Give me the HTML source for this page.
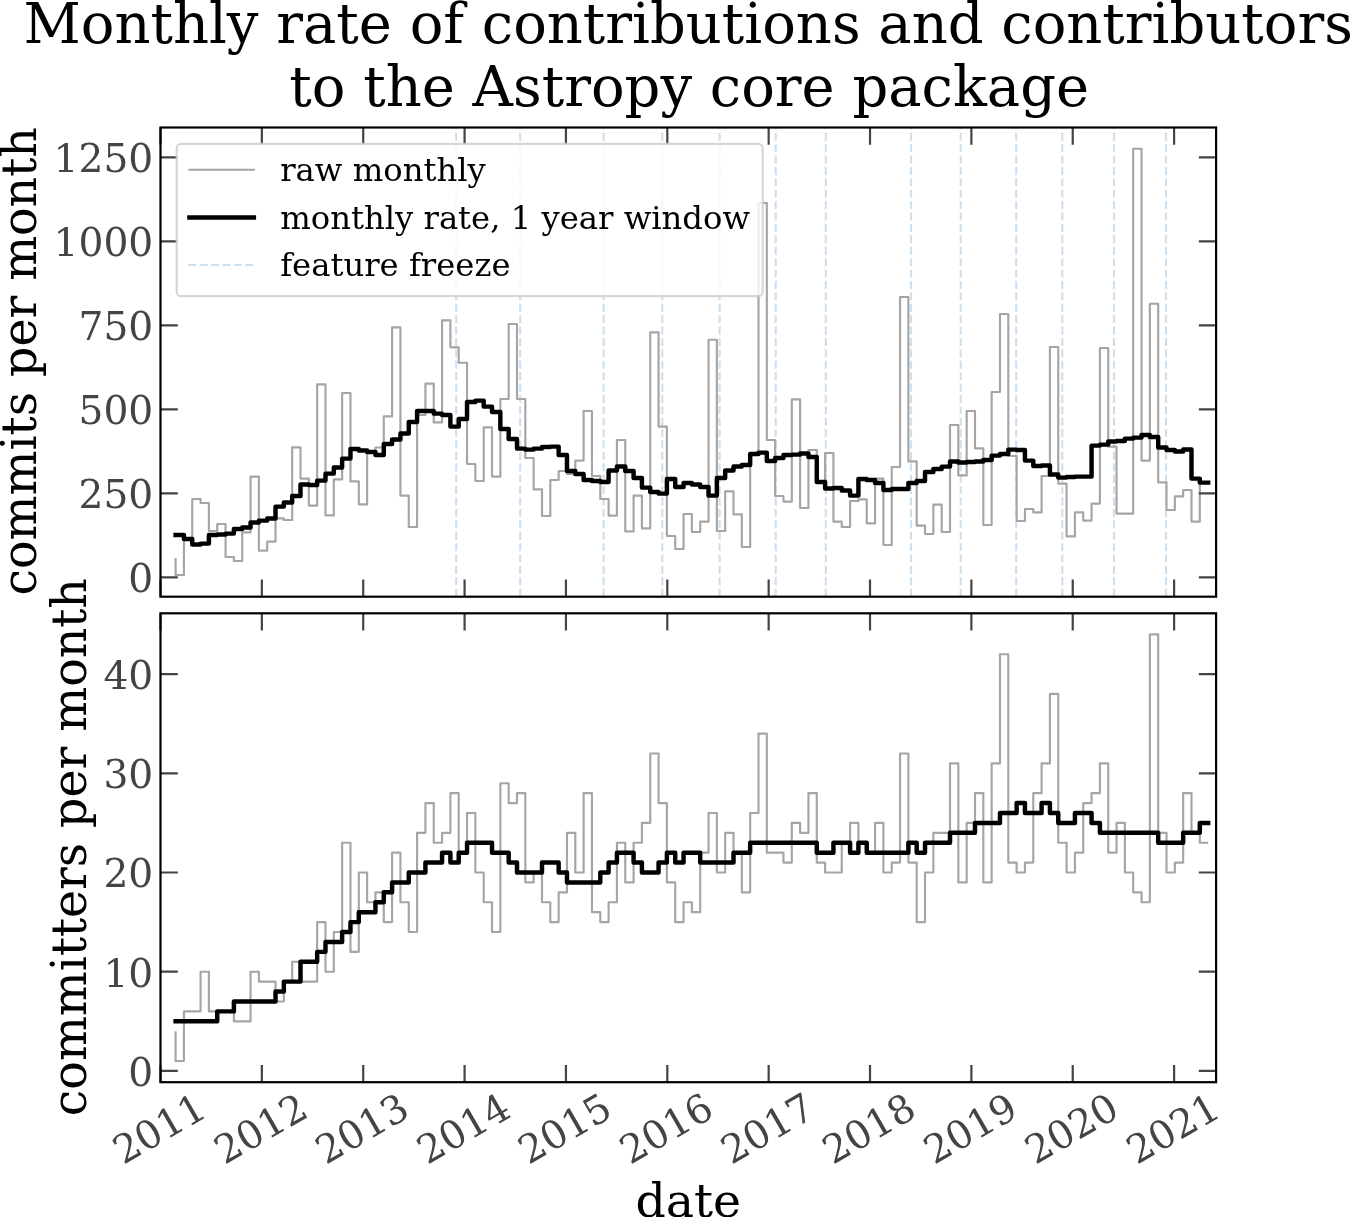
<!DOCTYPE html>
<html lang="en"><head><meta charset="utf-8"><title>Monthly rate of contributions and contributors to the Astropy core package</title>
<style>html,body{margin:0;padding:0;background:#fff}body{width:1350px;height:1217px;overflow:hidden}svg{display:block}text{font-family:'DejaVu Serif', 'Liberation Serif', serif}</style></head><body>
<svg width="1350" height="1217" viewBox="0 0 1350 1217">
<rect width="1350" height="1217" fill="#fff"/>
<g font-size="55.95" text-anchor="middle" fill="#000"><text x="688.2" y="42.8">Monthly rate of contributions and contributors</text><text x="689.2" y="105.8">to the Astropy core package</text></g>
<g fill="none">
<g stroke="#cde0ef" stroke-width="2.15" stroke-dasharray="7.96 3.44">
<path d="M456.2 596.7 V127.5"/>
<path d="M520.2 596.7 V127.5"/>
<path d="M603.6 596.7 V127.5"/>
<path d="M662.3 596.7 V127.5"/>
<path d="M719.6 596.7 V127.5"/>
<path d="M775.7 596.7 V127.5"/>
<path d="M825.8 596.7 V127.5"/>
<path d="M911 596.7 V127.5"/>
<path d="M960.7 596.7 V127.5"/>
<path d="M1016.2 596.7 V127.5"/>
<path d="M1062.3 596.7 V127.5"/>
<path d="M1114 596.7 V127.5"/>
<path d="M1166 596.7 V127.5"/>
</g>
<path d="M175.6 558V575H183.93V538H192.25V499H200.58V503H208.91V531H217.23V524H225.56V557H233.89V561H242.22V532.4H250.54V476.6H258.87V550.6H267.2V541.6H275.52V518.4H283.85V520H292.18V447.4H300.5V478.6H308.83V505.6H317.16V384.4H325.49V515.4H333.81V479.4H342.14V393H350.47V481.4H358.79V504.4H367.12V452H375.45V447.5H383.77V416.4H392.1V327.3H400.43V495.6H408.76V527H417.08V415H425.41V383.6H433.74V422.4H442.06V320.3H450.39V347.3H458.72V362.7H467.04V464H475.37V481H483.7V427.4H492.03V476.6H500.35V399H508.68V324H517.01V399H525.33V458H533.66V489.4H541.99V516H550.31V480H558.64V471H566.97V474H575.3V460.6H583.62V411H591.95V476H600.28V499H608.6V515.6H616.93V440H625.26V531.4H633.59V495.6H641.91V528.4H650.24V332.3H658.57V426.6H666.89V536H675.22V549H683.55V514H691.87V532H700.2V521.6H708.53V339.7H716.86V531H725.18V491.4H733.51V514.4H741.84V547H750.16V454H758.49V203H766.82V440H775.14V496H783.47V501.6H791.8V399.4H800.12V508H808.45V450H816.78V482H825.11V453H833.43V521.6H841.76V527H850.09V501H858.41V499.4H866.74V523.4H875.07V478.6H883.39V545H891.72V467H900.05V297H908.38V461.4H916.7V525.6H925.03V534H933.36V504.6H941.68V532H950.01V425H958.34V475.4H966.66V411H974.99V448.4H983.32V525H991.65V392H999.97V314H1008.3V456H1016.63V521H1024.95V509H1033.28V512.4H1041.61V476H1049.93V347H1058.26V483.6H1066.59V536.4H1074.92V512.4H1083.24V520.6H1091.57V503.6H1099.9V348H1108.22V446.6H1116.55V513.6H1133.2V148.7H1141.53V460.6H1149.86V303.7H1158.19V482.4H1166.51V510H1174.84V496.4H1183.17V490H1191.49V521.6H1199.82V482.6H1199.82" stroke="#a5a5a5" stroke-width="2.15" stroke-linejoin="round"/>
<path d="M175.6 535H183.93V539H192.25V544.4H200.58V543.6H208.91V535H217.23V534.4H225.56V533.6H233.89V529H242.22V527.4H250.54V522.4H258.87V520.6H267.2V518.4H275.52V506.6H283.85V502.4H292.18V496H300.5V484.4H308.83V485H317.16V480.6H325.49V473.6H333.81V467.4H342.14V458.6H350.47V449H358.79V450.4H367.12V452H375.45V455H383.77V444H392.1V439.4H400.43V433.4H408.76V422H417.08V411H433.74V413.6H442.06V415H450.39V426.6H458.72V419H467.04V402H475.37V400.6H483.7V406.6H492.03V412H500.35V429H508.68V439H517.01V448.6H525.33V449.6H533.66V448.6H541.99V447H550.31V446.6H558.64V455H566.97V471H575.3V474H583.62V480H591.95V481H600.28V482H608.6V470.4H616.93V466.4H625.26V471H633.59V478H641.91V487.6H650.24V492H658.57V493.6H666.89V479H675.22V487H683.55V483H691.87V484.4H700.2V487H708.53V495.6H716.86V478H725.18V470.4H733.51V466.4H741.84V465H750.16V454H758.49V452.6H766.82V461H775.14V458H783.47V455H791.8V454.6H800.12V453.4H808.45V457H816.78V482H825.11V488.4H833.43V488H841.76V490.4H850.09V495.6H858.41V479H866.74V480H875.07V483H883.39V490H891.72V489H908.38V483H916.7V481H925.03V472H933.36V469H941.68V466.6H950.01V461.4H958.34V462.4H966.66V462H974.99V461.4H983.32V460H991.65V455.6H999.97V454H1008.3V449.6H1016.63V450H1024.95V460.6H1033.28V466H1041.61V465.4H1049.93V474.4H1058.26V477.6H1066.59V477H1074.92V476.6H1091.57V445.6H1099.9V444.6H1108.22V441.4H1116.55V441H1124.88V438.6H1133.2V437.6H1141.53V435H1149.86V437H1158.19V447.4H1166.51V450H1174.84V451.4H1183.17V449.4H1191.49V478.6H1199.82V482.6H1208.15" stroke="#000" stroke-width="4.45" stroke-linejoin="round" stroke-linecap="square"/>
</g>
<g fill="none">
<path d="M175.6 1031.22V1060.98H183.93V1011.38H200.58V971.7H208.91V1011.38H233.89V1021.3H250.54V971.7H258.87V981.62H275.52V1001.46H283.85V981.62H292.18V961.78H300.5V981.62H317.16V922.1H325.49V971.7H333.81V932.02H342.14V842.74H350.47V951.86H358.79V872.5H367.12V902.26H375.45V892.34H383.77V922.1H392.1V852.66H400.43V902.26H408.76V932.02H417.08V832.82H425.41V803.06H433.74V842.74H442.06V832.82H450.39V793.14H458.72V852.66H467.04V812.98H475.37V872.5H483.7V902.26H492.03V932.02H500.35V783.22H508.68V803.06H517.01V793.14H525.33V882.42H533.66V872.5H541.99V902.26H550.31V922.1H558.64V892.34H566.97V832.82H575.3V872.5H583.62V793.14H591.95V912.18H600.28V922.1H608.6V902.26H616.93V842.74H625.26V882.42H633.59V842.74H641.91V822.9H650.24V753.46H658.57V803.06H666.89V882.42H675.22V922.1H683.55V902.26H691.87V912.18H700.2V852.66H708.53V812.98H716.86V872.5H725.18V832.82H733.51V852.66H741.84V892.34H750.16V812.98H758.49V733.62H766.82V852.66H783.47V862.58H791.8V822.9H800.12V832.82H808.45V793.14H816.78V862.58H825.11V872.5H841.76V842.74H850.09V822.9H858.41V842.74H866.74V852.66H875.07V822.9H883.39V872.5H891.72V862.58H900.05V753.46H908.38V862.58H916.7V922.1H925.03V872.5H933.36V832.82H950.01V763.38H958.34V882.42H966.66V822.9H974.99V793.14H983.32V882.42H991.65V763.38H999.97V654.26H1008.3V862.58H1016.63V872.5H1024.95V862.58H1033.28V793.14H1041.61V763.38H1049.93V693.94H1058.26V842.74H1066.59V872.5H1074.92V852.66H1083.24V803.06H1091.57V793.14H1099.9V763.38H1108.22V852.66H1116.55V822.9H1124.88V872.5H1133.2V892.34H1141.53V902.26H1149.86V634.42H1158.19V832.82H1166.51V872.5H1174.84V862.58H1183.17V793.14H1191.49V832.82H1199.82V842.74H1208.15" stroke="#a5a5a5" stroke-width="2.15" stroke-linejoin="round"/>
<path d="M175.6 1021.3H217.23V1011.38H233.89V1001.46H275.52V991.54H283.85V981.62H300.5V961.78H317.16V951.86H325.49V941.94H342.14V932.02H350.47V922.1H358.79V912.18H375.45V902.26H383.77V892.34H392.1V882.42H408.76V872.5H425.41V862.58H442.06V852.66H450.39V862.58H458.72V852.66H467.04V842.74H492.03V852.66H508.68V862.58H517.01V872.5H541.99V862.58H558.64V872.5H566.97V882.42H600.28V872.5H608.6V862.58H616.93V852.66H633.59V862.58H641.91V872.5H658.57V862.58H666.89V852.66H675.22V862.58H683.55V852.66H700.2V862.58H733.51V852.66H750.16V842.74H816.78V852.66H833.43V842.74H850.09V852.66H858.41V842.74H866.74V852.66H908.38V842.74H916.7V852.66H925.03V842.74H950.01V832.82H974.99V822.9H999.97V812.98H1016.63V803.06H1024.95V812.98H1041.61V803.06H1049.93V812.98H1058.26V822.9H1074.92V812.98H1091.57V822.9H1099.9V832.82H1158.19V842.74H1183.17V832.82H1199.82V822.9H1208.15" stroke="#000" stroke-width="4.45" stroke-linejoin="round" stroke-linecap="square"/>
</g>
<g stroke="#444" stroke-width="2.2" fill="none"><path d="M160.5 596.7 v-17.3 M160.5 127.5 v17.3 M261.86 596.7 v-17.3 M261.86 127.5 v17.3 M363.22 596.7 v-17.3 M363.22 127.5 v17.3 M464.58 596.7 v-17.3 M464.58 127.5 v17.3 M565.94 596.7 v-17.3 M565.94 127.5 v17.3 M667.3 596.7 v-17.3 M667.3 127.5 v17.3 M768.66 596.7 v-17.3 M768.66 127.5 v17.3 M870.02 596.7 v-17.3 M870.02 127.5 v17.3 M971.38 596.7 v-17.3 M971.38 127.5 v17.3 M1072.74 596.7 v-17.3 M1072.74 127.5 v17.3 M1174.1 596.7 v-17.3 M1174.1 127.5 v17.3 M160.5 577.4 h17.3 M1216.1 577.4 h-17.3 M160.5 493.4 h17.3 M1216.1 493.4 h-17.3 M160.5 409.4 h17.3 M1216.1 409.4 h-17.3 M160.5 325.4 h17.3 M1216.1 325.4 h-17.3 M160.5 241.4 h17.3 M1216.1 241.4 h-17.3 M160.5 157.4 h17.3 M1216.1 157.4 h-17.3"/></g>
<g stroke="#444" stroke-width="2.2" fill="none"><path d="M160.5 1082.2 v-17.3 M160.5 613.3 v17.3 M261.86 1082.2 v-17.3 M261.86 613.3 v17.3 M363.22 1082.2 v-17.3 M363.22 613.3 v17.3 M464.58 1082.2 v-17.3 M464.58 613.3 v17.3 M565.94 1082.2 v-17.3 M565.94 613.3 v17.3 M667.3 1082.2 v-17.3 M667.3 613.3 v17.3 M768.66 1082.2 v-17.3 M768.66 613.3 v17.3 M870.02 1082.2 v-17.3 M870.02 613.3 v17.3 M971.38 1082.2 v-17.3 M971.38 613.3 v17.3 M1072.74 1082.2 v-17.3 M1072.74 613.3 v17.3 M1174.1 1082.2 v-17.3 M1174.1 613.3 v17.3 M160.5 1070.9 h17.3 M1216.1 1070.9 h-17.3 M160.5 971.7 h17.3 M1216.1 971.7 h-17.3 M160.5 872.5 h17.3 M1216.1 872.5 h-17.3 M160.5 773.3 h17.3 M1216.1 773.3 h-17.3 M160.5 674.1 h17.3 M1216.1 674.1 h-17.3"/></g>
<rect x="176.7" y="143.8" width="586" height="152.4" rx="4.5" fill="#fff" fill-opacity="0.8" stroke="#ccc" stroke-opacity="0.8" stroke-width="2.2"/>
<path d="M188.3 169.7H255" stroke="#a5a5a5" stroke-width="2.1"/>
<path d="M187.2 217.4H256.1" stroke="#000" stroke-width="4.45"/>
<path d="M188.3 265H255" stroke="#cde0ef" stroke-width="2.15" stroke-dasharray="7.96 3.44"/>
<g font-size="32.25" fill="#000"><text x="280.2" y="181.3">raw monthly</text><text x="280.2" y="228.5">monthly rate, 1 year window</text><text x="280.2" y="275.7">feature freeze</text></g>
<g fill="none" stroke="#000" stroke-width="2.2" stroke-linejoin="miter">
<rect x="160.5" y="127.5" width="1055.6" height="469.2"/>
<rect x="160.5" y="613.3" width="1055.6" height="468.9"/>
</g>
<g font-size="39.2" fill="#444" text-anchor="end">
<text x="153.3" y="592.3">0</text>
<text x="153.3" y="508.3">250</text>
<text x="153.3" y="424.3">500</text>
<text x="153.3" y="340.3">750</text>
<text x="153.3" y="256.3">1000</text>
<text x="153.3" y="172.3">1250</text>
<text x="153.3" y="1085.8">0</text>
<text x="153.3" y="986.6">10</text>
<text x="153.3" y="887.4">20</text>
<text x="153.3" y="788.2">30</text>
<text x="153.3" y="689">40</text>
</g>
<g font-size="39" fill="#444" text-anchor="middle">
<text transform="translate(159 1128) rotate(-30)" y="14.2">2011</text>
<text transform="translate(260.36 1128) rotate(-30)" y="14.2">2012</text>
<text transform="translate(361.72 1128) rotate(-30)" y="14.2">2013</text>
<text transform="translate(463.08 1128) rotate(-30)" y="14.2">2014</text>
<text transform="translate(564.44 1128) rotate(-30)" y="14.2">2015</text>
<text transform="translate(665.8 1128) rotate(-30)" y="14.2">2016</text>
<text transform="translate(767.16 1128) rotate(-30)" y="14.2">2017</text>
<text transform="translate(868.52 1128) rotate(-30)" y="14.2">2018</text>
<text transform="translate(969.88 1128) rotate(-30)" y="14.2">2019</text>
<text transform="translate(1071.24 1128) rotate(-30)" y="14.2">2020</text>
<text transform="translate(1172.6 1128) rotate(-30)" y="14.2">2021</text>
</g>
<g font-size="47.4" fill="#000" text-anchor="middle">
<text transform="translate(36.1 361.4) rotate(-90) scale(1 1.03)">commits per month</text>
<text transform="translate(85.7 847.2) rotate(-90) scale(1 1.03)">committers per month</text>
<text x="688.3" y="1217">date</text>
</g>
</svg></body></html>
